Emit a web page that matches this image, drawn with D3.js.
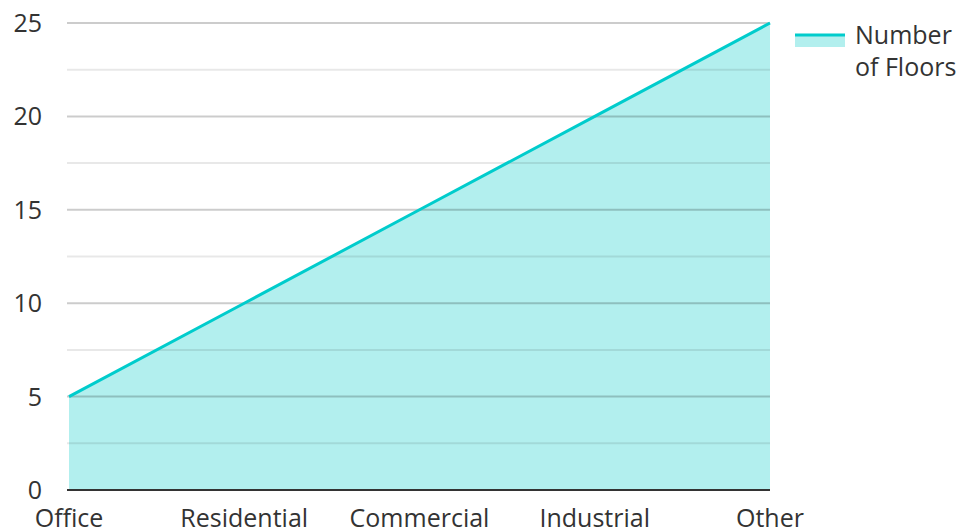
<!DOCTYPE html>
<html><head><meta charset="utf-8">
<script src="https://cdn.jsdelivr.net/npm/d3@7"></script>
<style>body{margin:0;background:#fff;} text{font-family:"Open Sans","Noto Sans",sans-serif;}</style>
</head><body>
<svg id="c" width="960" height="531"></svg>
<script>
const categories = ["Office","Residential","Commercial","Industrial","Other"];
const floors = [5,10,15,20,25];
const yTicks = [0,5,10,15,20,25];
const minorTicks = [2.5,7.5,12.5,17.5,22.5];
const seriesName = ["Number","of Floors"];

const svg = d3.select("#c");
const L=68, R=770, T=23, B=490;
const x = d3.scalePoint().domain(categories).range([L+1,R]);
const y = d3.scaleLinear().domain([0,25]).range([B,T]);

const data = categories.map((c,i)=>({c,v:floors[i]}));
svg.append("path").datum(data)
  .attr("d", d3.area().x(d=>x(d.c)).y0(y(0)).y1(d=>y(d.v)))
  .attr("fill","#b2efee");

svg.append("g").selectAll("line").data(minorTicks).join("line")
  .attr("x1",L-1).attr("x2",R).attr("y1",d=>y(d)).attr("y2",d=>y(d))
  .attr("stroke","#000").attr("stroke-opacity",0.09).attr("stroke-width",2);
svg.append("g").selectAll("line").data(yTicks.filter(d=>d>0)).join("line")
  .attr("x1",L-1).attr("x2",R).attr("y1",d=>y(d)).attr("y2",d=>y(d))
  .attr("stroke","#000").attr("stroke-opacity",0.2).attr("stroke-width",2);

svg.append("g").selectAll("text").data(yTicks).join("text")
  .attr("x",42).attr("y",d=>y(d)+9).attr("text-anchor","end")
  .attr("font-size",25).attr("fill","#333").text(d=>d);

svg.append("line").attr("x1",L-1).attr("x2",R).attr("y1",B).attr("y2",B)
  .attr("stroke","#333").attr("stroke-width",2);

svg.append("g").selectAll("text").data(categories).join("text")
  .attr("x",d=>x(d)).attr("y",B+37).attr("text-anchor","middle")
  .attr("font-size",25).attr("fill","#333").text(d=>d);

svg.append("path").datum(data)
  .attr("d", d3.line().x(d=>x(d.c)).y(d=>y(d.v)))
  .attr("fill","none").attr("stroke","#00cccc").attr("stroke-width",3);

// legend
svg.append("rect").attr("x",795).attr("y",35).attr("width",50).attr("height",12).attr("fill","#b2efee");
svg.append("line").attr("x1",795).attr("x2",845).attr("y1",35).attr("y2",35).attr("stroke","#00cccc").attr("stroke-width",3);
svg.append("g").selectAll("text").data(seriesName).join("text")
  .attr("x",855).attr("y",(d,i)=>44+i*32).attr("font-size",25).attr("fill","#333").text(d=>d);
</script>
</body></html>
